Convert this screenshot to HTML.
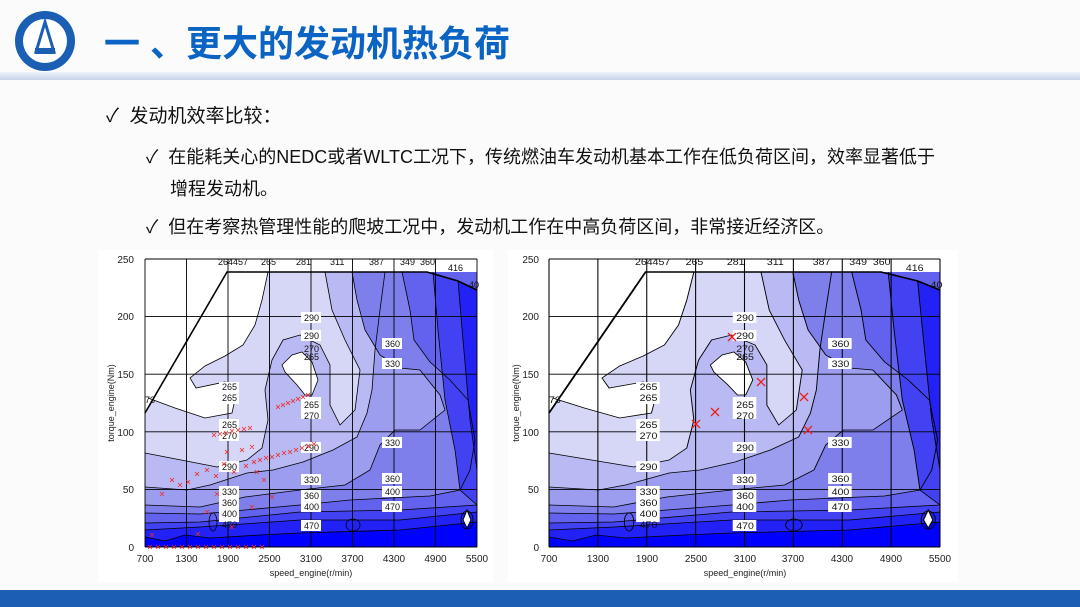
<!DOCTYPE html>
<html><head><meta charset="utf-8"><style>
body{margin:0;width:1080px;height:607px;overflow:hidden;background:#fbfbfb;font-family:"Liberation Sans","Noto Sans CJK SC",sans-serif;position:relative}
.t{position:absolute;white-space:nowrap;color:#111}
</style></head><body>
<div style="position:absolute;left:0;top:72px;width:1080px;height:8px;background:linear-gradient(#eef2fa,#c8d4ec)"></div>
<svg style="position:absolute;left:12px;top:8px" width="66" height="66"><circle cx="33" cy="33" r="30" fill="#1a5fb4"/><circle cx="33" cy="33" r="22" fill="#fff"/><path d="M33 14 L24 44 H42 Z" fill="none" stroke="#1a5fb4" stroke-width="3"/><rect x="23" y="40" width="20" height="6" fill="#1a5fb4"/></svg>
<div class="t" style="left:104px;top:15px;font-size:36px;font-weight:bold;color:#0b63c4">一 、更大的发动机热负荷</div>
<div class="t" style="left:106px;top:101px;font-size:19px">✓&nbsp; 发动机效率比较：</div>
<div class="t" style="left:146px;top:143px;font-size:18px">✓&nbsp; 在能耗关心的NEDC或者WLTC工况下，传统燃油车发动机基本工作在低负荷区间，效率显著低于</div>
<div class="t" style="left:170px;top:175px;font-size:18px">增程发动机。</div>
<div class="t" style="left:146px;top:213px;font-size:18px">✓&nbsp; 但在考察热管理性能的爬坡工况中，发动机工作在中高负荷区间，非常接近经济区。</div>
<div style="position:absolute;left:98px;top:250px;width:395px;height:332px;background:#fff"></div>
<div style="position:absolute;left:508px;top:250px;width:450px;height:332px;background:#fff"></div>
<div style="position:absolute;left:0;top:590px;width:1080px;height:17px;background:#1a5fb4"></div>
<svg style="position:absolute;left:0;top:0" width="1080" height="607" font-family="Liberation Sans, sans-serif">
<defs>
<g id="c">
<polygon fill="#d6d6f7" points="145,547 145,413 227,272 427,272 458,281 477,290 477,547"/>
<polygon fill="#fff" points="145,413 148,398 175,408 205,418 232,413 236,395 225,382 196,388 190,378 205,366 225,356 243,345 255,325 262,300 268,272 227,272"/>
<polygon fill="#b9b9f3" points="145,453 217,467 247,460 262,448 268,420 265,390 272,360 283,340 300,335 320,345 330,365 330,405 340,425 355,410 360,370 345,340 332,310 325,272 477,272 477,547 145,547"/>
<polygon fill="#fff" points="282,365 292,355 302,352 312,362 318,380 312,395 305,395 297,385 285,372"/>
<polygon fill="#9d9def" points="145,487 187,490 210,485 247,473 273,470 303,462 333,450 357,437 367,413 372,390 375,350 380,310 385,272 477,272 477,547 145,547"/>
<polygon fill="#7f7fec" points="145,505 200,507 245,497 300,490 345,485 370,470 380,445 395,430 420,430 445,410 440,395 420,370 400,368 380,355 365,330 357,300 352,272 477,272 477,547 145,547"/>
<polygon fill="#6262ee" points="145,513 200,514 245,510 300,505 350,500 390,498 430,496 460,490 470,470 475,440 468,400 450,380 430,362 414,340 410,310 402,272 477,272 477,547 145,547"/>
<polygon fill="#4242f2" points="145,523 200,522 300,512 400,510 460,506 477,505 477,547 145,547"/>
<polygon fill="#4242f2" points="477,505 460,490 455,450 445,400 438,330 433,272 458,281 477,290"/>
<polygon fill="#2222f6" points="145,530 200,527 300,520 400,520 477,512 477,547 145,547"/>
<polygon fill="#2222f6" points="477,470 470,420 463,340 458,281 477,290"/>
<polygon fill="#0000fe" points="145,537 165,541 185,535 210,538 260,535 300,533 400,530 477,522 477,547 145,547"/>
<g fill="none" stroke="#000" stroke-width="0.8">
<polyline points="148,398 175,408 205,418 232,413 236,395 225,382 196,388 190,378 205,366 225,356 243,345 255,325 262,300 268,272"/>
<polyline points="145,453 217,467 247,460 262,448 268,420 265,390 272,360 283,340 300,335 320,345 330,365 330,405 340,425 355,410 360,370 345,340 332,310 325,272"/>
<polygon points="282,365 292,355 302,352 312,362 318,380 312,395 305,395 297,385 285,372"/>
<polyline points="145,487 187,490 210,485 247,473 273,470 303,462 333,450 357,437 367,413 372,390 375,350 380,310 385,272"/>
<polyline points="145,505 200,507 245,497 300,490 345,485 370,470 380,445 395,430 420,430 445,410 440,395 420,370 400,368 380,355 365,330 357,300 352,272"/>
<polyline points="145,513 200,514 245,510 300,505 350,500 390,498 430,496 460,490 470,470 475,440 468,400 450,380 430,362 414,340 410,310 402,272"/>
<polyline points="145,523 200,522 300,512 400,510 477,505"/>
<polyline points="477,505 460,490 455,450 445,400 438,330 433,272"/>
<polyline points="477,470 470,420 463,340 458,281"/>
<polyline points="145,530 200,527 300,520 400,520 477,512"/>
<polyline points="145,537 165,541 185,535 210,538 260,535 300,533 400,530 477,522"/>
<ellipse cx="213" cy="522" rx="4" ry="9"/><ellipse cx="353" cy="525" rx="7" ry="6"/><ellipse cx="467" cy="520" rx="6" ry="9"/>
</g>
<path d="M463 520 L467 510 L471 520 L467 528Z" fill="#fff" stroke="#000"/>
<polyline fill="none" stroke="#000" stroke-width="1.6" points="145,413 227,272 427,272 458,281 477,290"/>
<g stroke="#000" stroke-width="0.9">
<line x1="145" y1="259" x2="145" y2="547"/><line x1="186.5" y1="259" x2="186.5" y2="547"/><line x1="228" y1="259" x2="228" y2="547"/><line x1="269.5" y1="259" x2="269.5" y2="547"/><line x1="311" y1="259" x2="311" y2="547"/><line x1="352.5" y1="259" x2="352.5" y2="547"/><line x1="394" y1="259" x2="394" y2="547"/><line x1="435.5" y1="259" x2="435.5" y2="547"/><line x1="477" y1="259" x2="477" y2="547"/>
<line x1="145" y1="259" x2="477" y2="259"/><line x1="145" y1="316.6" x2="477" y2="316.6"/><line x1="145" y1="374.2" x2="477" y2="374.2"/><line x1="145" y1="431.8" x2="477" y2="431.8"/><line x1="145" y1="489.4" x2="477" y2="489.4"/><line x1="145" y1="547" x2="477" y2="547"/>
</g>
<g font-size="9" fill="#111">
<g fill="#fff"><rect x="301" y="312" width="20" height="11"/><rect x="301" y="330" width="20" height="11"/><rect x="382" y="338" width="20" height="11"/><rect x="382" y="358" width="20" height="11"/><rect x="219" y="382" width="20" height="22"/><rect x="301" y="397" width="20" height="22"/><rect x="219" y="419" width="20" height="22"/><rect x="301" y="442" width="20" height="11"/><rect x="382" y="437" width="20" height="11"/><rect x="219" y="461" width="20" height="11"/><rect x="301" y="474" width="20" height="11"/><rect x="382" y="473" width="20" height="11"/><rect x="219" y="486" width="20" height="36"/><rect x="301" y="490" width="20" height="22"/><rect x="382" y="486" width="20" height="11"/><rect x="382" y="501" width="20" height="11"/><rect x="301" y="520" width="20" height="11"/></g>
<text x="304" y="321">290</text><text x="304" y="339">290</text><text x="304" y="352">270</text><text x="304" y="360">265</text>
<text x="385" y="347">360</text><text x="385" y="367">330</text>
<text x="222" y="390">265</text><text x="222" y="401">265</text>
<text x="304" y="408">265</text><text x="304" y="419">270</text>
<text x="222" y="428">265</text><text x="222" y="439">270</text>
<text x="304" y="451">290</text><text x="385" y="446">330</text>
<text x="222" y="470">290</text>
<text x="304" y="483">330</text><text x="385" y="482">360</text>
<text x="222" y="495">330</text><text x="222" y="506">360</text><text x="222" y="517">400</text><text x="222" y="528">470</text>
<text x="304" y="499">360</text><text x="304" y="510">400</text>
<text x="385" y="495">400</text><text x="385" y="510">470</text>
<text x="304" y="529">470</text>
<text x="218" y="265">264457</text><text x="261" y="265">265</text><text x="296" y="265">281</text><text x="330" y="265">311</text><text x="369" y="265">387</text><text x="400" y="265">349</text><text x="420" y="265">360</text><text x="448" y="271">416</text><text x="469" y="288">40</text><text x="145" y="403">73</text>
</g>
</g>
<g id="ax" font-size="10" fill="#222">
<text x="134" y="263" text-anchor="end">250</text><text x="134" y="320" text-anchor="end">200</text><text x="134" y="378" text-anchor="end">150</text><text x="134" y="436" text-anchor="end">100</text><text x="134" y="493" text-anchor="end">50</text><text x="134" y="551" text-anchor="end">0</text>
<text transform="translate(114,403) rotate(-90)" text-anchor="middle" font-size="9">torque_engine(Nm)</text>
</g>
</defs>
<use href="#c"/>
<use href="#c" transform="translate(549,0) scale(1.1777,1) translate(-145,0)"/>
<use href="#ax"/>
<use href="#ax" transform="translate(405,0)"/>
<g font-size="10" fill="#222" text-anchor="middle">
<text x="145" y="562">700</text><text x="186.5" y="562">1300</text><text x="228" y="562">1900</text><text x="269.5" y="562">2500</text><text x="311" y="562">3100</text><text x="352.5" y="562">3700</text><text x="394" y="562">4300</text><text x="435.5" y="562">4900</text><text x="477" y="562">5500</text>
<text x="311" y="576" font-size="9">speed_engine(r/min)</text>
<text x="549" y="562">700</text><text x="598" y="562">1300</text><text x="647" y="562">1900</text><text x="696" y="562">2500</text><text x="745" y="562">3100</text><text x="793" y="562">3700</text><text x="842" y="562">4300</text><text x="891" y="562">4900</text><text x="940" y="562">5500</text>
<text x="745" y="576" font-size="9">speed_engine(r/min)</text>
</g>
<g stroke="#ee2a2a" stroke-width="0.8">
<path d="M276,405l4,4m0,-4l-4,4M281,403l4,4m0,-4l-4,4M286,401l4,4m0,-4l-4,4M291,399l4,4m0,-4l-4,4M296,397l4,4m0,-4l-4,4M301,395l4,4m0,-4l-4,4M306,393l4,4m0,-4l-4,4
M252,460l4,4m0,-4l-4,4M258,458l4,4m0,-4l-4,4M264,456l4,4m0,-4l-4,4M270,455l4,4m0,-4l-4,4M276,453l4,4m0,-4l-4,4M282,451l4,4m0,-4l-4,4M288,450l4,4m0,-4l-4,4M294,448l4,4m0,-4l-4,4M300,446l4,4m0,-4l-4,4M306,444l4,4m0,-4l-4,4M312,442l4,4m0,-4l-4,4
M212,433l4,4m0,-4l-4,4M218,432l4,4m0,-4l-4,4M224,431l4,4m0,-4l-4,4M230,429l4,4m0,-4l-4,4M236,428l4,4m0,-4l-4,4M242,427l4,4m0,-4l-4,4M248,426l4,4m0,-4l-4,4
M170,478l4,4m0,-4l-4,4M178,483l4,4m0,-4l-4,4M186,480l4,4m0,-4l-4,4M195,472l4,4m0,-4l-4,4M205,468l4,4m0,-4l-4,4M214,474l4,4m0,-4l-4,4M222,462l4,4m0,-4l-4,4M232,470l4,4m0,-4l-4,4M244,464l4,4m0,-4l-4,4M255,470l4,4m0,-4l-4,4M262,478l4,4m0,-4l-4,4M240,448l4,4m0,-4l-4,4M250,445l4,4m0,-4l-4,4M225,450l4,4m0,-4l-4,4M215,492l4,4m0,-4l-4,4M205,510l4,4m0,-4l-4,4M196,532l4,4m0,-4l-4,4M230,525l4,4m0,-4l-4,4M250,505l4,4m0,-4l-4,4M270,495l4,4m0,-4l-4,4M160,492l4,4m0,-4l-4,4M150,533l4,4m0,-4l-4,4
M148,545l4,4m0,-4l-4,4M156,545l4,4m0,-4l-4,4M164,545l4,4m0,-4l-4,4M172,545l4,4m0,-4l-4,4M180,545l4,4m0,-4l-4,4M188,545l4,4m0,-4l-4,4M196,545l4,4m0,-4l-4,4M204,545l4,4m0,-4l-4,4M212,545l4,4m0,-4l-4,4M220,545l4,4m0,-4l-4,4M228,545l4,4m0,-4l-4,4M236,545l4,4m0,-4l-4,4M244,545l4,4m0,-4l-4,4M252,545l4,4m0,-4l-4,4M260,545l4,4m0,-4l-4,4"/>
</g>
<g stroke="#ee2020" stroke-width="1.3">
<path d="M692,420l8,8m0,-8l-8,8M711,408l8,8m0,-8l-8,8M728,333l8,8m0,-8l-8,8M757,378l8,8m0,-8l-8,8M800,393l8,8m0,-8l-8,8M804,426l8,8m0,-8l-8,8"/>
</g>
</svg>
</body></html>
